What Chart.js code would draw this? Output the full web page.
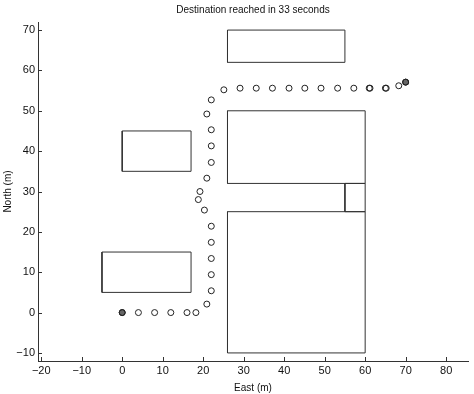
<!DOCTYPE html>
<html><head><meta charset="utf-8">
<script src="https://cdn.jsdelivr.net/npm/chart.js@4.4.0/dist/chart.umd.min.js"></script>
<style>html,body{margin:0;padding:0;background:#fff}#wrap{width:474px;height:394px}</style>
</head><body><div id="wrap"><canvas id="c" width="474" height="394"></canvas></div>
<script>
const titleText = "Destination reached in 33 seconds";
const xLabel = "East (m)";
const yLabel = "North (m)";
const xTicks = [-20,-10,0,10,20,30,40,50,60,70,80];
const yTicks = [-10,0,10,20,30,40,50,60,70];
// obstacles: [x1, y1, x2, y2]
const obstacles = [
  [26, 62, 55, 70],
  [26, 32, 60, 50],
  [0, 35, 17, 45],
  [55, 25, 60, 32],
  [26, -10, 60, 25],
  [-5, 5, 17, 15]
];
const pathX = [0,4,8,12,16,18.2,20.9,22,22,22,22,22,20.3,18.8,19.2,20.9,22,22,22,20.9,22,25.1,29.1,33.1,37.1,41.2,45.1,49.1,53.2,57.2,61.0,61.2,65.0,65.2,68.3,70];
const pathY = [0,0,0,0,0,0,2.1,5.4,9.4,13.4,17.4,21.4,25.4,28,30,33.3,37.2,41.3,45.3,49.2,52.7,55.2,55.6,55.6,55.6,55.6,55.6,55.6,55.6,55.6,55.6,55.6,55.6,55.6,56.2,57.1];
const startPt = [0, 0];
const endPt = [70, 57.1];

const ink = '#333';
const fontFam = '"Liberation Sans", Arial, sans-serif';
const fmt = v => (v < 0 ? '\u2212' + Math.abs(v) : String(v));
const datasets = [];
obstacles.forEach(o => {
  datasets.push({
    type: 'line',
    data: [{x:o[0],y:o[1]},{x:o[2],y:o[1]},{x:o[2],y:o[3]},{x:o[0],y:o[3]},{x:o[0],y:o[1]}],
    borderColor: ink, borderWidth: 1, pointRadius: 0, fill: false, tension: 0
  });
});
datasets.push({
  type: 'scatter',
  data: pathX.map((x,i)=>({x:x,y:pathY[i]})),
  pointStyle: 'circle', pointRadius: 3, borderColor: '#222', borderWidth: 1,
  backgroundColor: 'rgba(0,0,0,0)'
});
[startPt, endPt].forEach(p => {
  datasets.push({type:'scatter', data:[{x:p[0],y:p[1]}], pointStyle:'circle', pointRadius:3,
    borderColor:'#222', borderWidth:1, backgroundColor:'#666'});
  datasets.push({type:'scatter', data:[{x:p[0],y:p[1]}], pointStyle:'star', pointRadius:3,
    borderColor:'#111', borderWidth:1});
});

const inwardTicks = {
  id: 'inwardTicks',
  afterDatasetsDraw(chart) {
    const ctx = chart.ctx, xs = chart.scales.x, ys = chart.scales.y;
    const a = chart.chartArea;
    ctx.save();
    ctx.strokeStyle = ink; ctx.lineWidth = 1;
    ctx.beginPath();
    xTicks.forEach(v => { const px = Math.round(xs.getPixelForValue(v)) + 0.5; ctx.moveTo(px, a.bottom); ctx.lineTo(px, a.bottom - 4); });
    yTicks.forEach(v => { const py = Math.round(ys.getPixelForValue(v)) + 0.5; ctx.moveTo(a.left, py); ctx.lineTo(a.left + 4, py); });
    ctx.stroke();
    ctx.fillStyle = '#111';
    ctx.font = '10px ' + fontFam;
    ctx.textAlign = 'center'; ctx.textBaseline = 'middle';
    ctx.fillText(titleText, (a.left + a.right) / 2, 10);
    ctx.fillText(xLabel, (a.left + a.right) / 2, 388);
    ctx.translate(8, (a.top + a.bottom) / 2);
    ctx.rotate(-Math.PI / 2);
    ctx.fillText(yLabel, 0, 0);
    ctx.restore();
  }
};

new Chart(document.getElementById('c'), {
  data: { datasets },
  options: {
    responsive: false, animation: false, devicePixelRatio: 1,
    layout: { padding: { top: 22, right: 6, left: 0, bottom: 0 } },
    plugins: { legend: { display: false }, tooltip: { enabled: false }, title: { display: false } },
    scales: {
      x: {
        type: 'linear', min: -20.8, max: 85.4,
        grid: { display: false, drawTicks: false },
        border: { display: true, color: ink, width: 1 },
        ticks: { padding: 3, color: '#111', font: { family: fontFam, size: 11 }, callback: fmt },
        afterBuildTicks: s => { s.ticks = xTicks.map(v => ({ value: v })); },
        afterFit: s => { s.height = 33; }
      },
      y: {
        type: 'linear', min: -12, max: 72,
        grid: { display: false, drawTicks: false },
        border: { display: true, color: ink, width: 1 },
        ticks: { padding: 3, color: '#111', font: { family: fontFam, size: 11 }, callback: fmt },
        afterBuildTicks: s => { s.ticks = yTicks.map(v => ({ value: v })); },
        afterFit: s => { s.width = 38; }
      }
    }
  },
  plugins: [inwardTicks]
});
</script></body></html>
